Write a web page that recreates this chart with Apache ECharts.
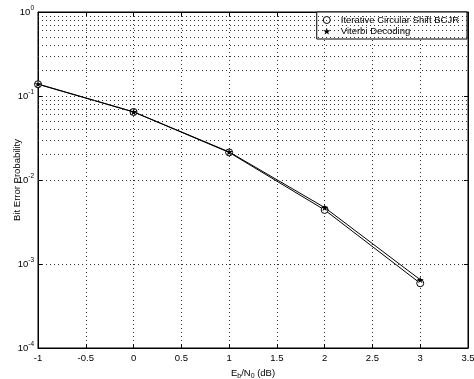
<!DOCTYPE html>
<html><head><meta charset="utf-8">
<script src="https://cdn.jsdelivr.net/npm/echarts@6/dist/echarts.min.js"></script>
<style>html,body{margin:0;padding:0;background:#fff}#c{width:474px;height:379px}</style>
</head><body><div id="c"></div>
<script>
var snr = [-1, 0, 1, 2, 3];
var bcjr = [0.138, 0.0645, 0.0213, 0.0044, 0.00059];
var viterbi = [0.139, 0.0648, 0.0216, 0.0047, 0.00065];
var xTicks = [-1, -0.5, 0, 0.5, 1, 1.5, 2, 2.5, 3, 3.5];
var minorY = [];
[1e-4, 1e-3, 1e-2, 1e-1].forEach(function (d) {
  for (var k = 2; k <= 9; k++) minorY.push(+(d * k).toPrecision(3));
});
var FONT = 'Liberation Sans, Arial, sans-serif';
var STAR = 'path://M50,0 L61,35 L98,35 L68,57 L79,91 L50,70 L21,91 L32,57 L2,35 L39,35 Z';

var chart = echarts.init(document.getElementById('c'));
chart.setOption({
  animation: false,
  backgroundColor: '#fff',
  textStyle: { fontFamily: FONT },
  grid: { left: 38, right: 6, top: 12, bottom: 31, show: true, borderColor: '#000', borderWidth: 1, containLabel: false, outerBoundsMode: 'none' },
  legend: {
    right: 7, top: 12, orient: 'vertical', itemGap: 1, itemWidth: 18, itemHeight: 7,
    padding: [3, 8, 3, 6], borderColor: '#000', borderWidth: 1, backgroundColor: '#fff',
    textStyle: { fontSize: 9.5, color: '#000', fontFamily: FONT },
    data: [
      { name: 'Iterative Circular Shift BCJR', icon: 'circle', itemStyle: { color: '#fff', borderColor: '#000', borderWidth: 1 } },
      { name: 'Viterbi Decoding', icon: STAR, itemStyle: { color: '#000', borderWidth: 0 } }
    ]
  },
  xAxis: [{
    type: 'value', min: -1, max: 3.5, interval: 0.5,
    name: 'E{sub|b}/N{sub|0} (dB)', nameLocation: 'middle', nameGap: 19, nameMoveOverlap: false,
    nameTextStyle: { fontSize: 9.5, color: '#000', fontFamily: FONT, rich: { sub: { fontSize: 7, verticalAlign: 'bottom', padding: [6, 0, 0, 0] } } },
    axisLine: { show: true, onZero: false, lineStyle: { color: '#000' } },
    axisTick: { inside: true, length: 4, lineStyle: { color: '#000' } },
    axisLabel: { fontSize: 9.5, color: '#000', margin: 5, formatter: function (v) { return String(v); } },
    splitLine: { show: true, lineStyle: { color: '#333', type: [1, 3], width: 1 } }
  }, {
    type: 'value', position: 'top', min: -1, max: 3.5, interval: 0.5,
    axisLine: { show: true, onZero: false, lineStyle: { color: '#000' } },
    axisTick: { inside: true, length: 4, lineStyle: { color: '#000' } },
    axisLabel: { show: false }, splitLine: { show: false }
  }],
  yAxis: [{
    type: 'log', logBase: 10, min: 1e-4, max: 1,
    name: 'Bit Error Probability', nameLocation: 'middle', nameGap: 16, nameMoveOverlap: false,
    nameTextStyle: { fontSize: 9.5, color: '#000', fontFamily: FONT },
    axisLine: { show: true, onZero: false, lineStyle: { color: '#000' } },
    axisTick: { inside: true, length: 4, lineStyle: { color: '#000' } },
    axisLabel: {
      fontSize: 9.5, color: '#000', margin: 4,
      formatter: function (v) { return '10{sup|' + Math.round(Math.log10(v)) + '}'; },
      rich: { sup: { fontSize: 6.5, verticalAlign: 'top', padding: [0, 0, 7, 0] } }
    },
    splitLine: { show: true, lineStyle: { color: '#333', type: [1, 3], width: 1 } }
  }, {
    type: 'log', logBase: 10, min: 1e-4, max: 1, position: 'right',
    axisLine: { show: true, onZero: false, lineStyle: { color: '#000' } },
    axisTick: { inside: true, length: 4, lineStyle: { color: '#000' } },
    axisLabel: { show: false }, splitLine: { show: false }
  }],
  series: [{
    name: 'Iterative Circular Shift BCJR', type: 'line',
    data: snr.map(function (x, i) { return [x, bcjr[i]]; }),
    symbol: 'circle', symbolSize: 7,
    lineStyle: { color: '#000', width: 1 },
    itemStyle: { color: '#fff', borderColor: '#000', borderWidth: 1 },
    z: 3,
    markLine: {
      silent: true, symbol: 'none', label: { show: false },
      lineStyle: { color: '#333', type: [1, 3], width: 1 },
      data: minorY.map(function (v) { return { yAxis: v }; })
    }
  }, {
    name: 'Viterbi Decoding', type: 'line',
    data: snr.map(function (x, i) { return [x, viterbi[i]]; }),
    symbol: STAR, symbolSize: 7,
    lineStyle: { color: '#000', width: 1 },
    itemStyle: { color: '#000', borderWidth: 0 },
    z: 4
  }]
});
</script></body></html>
